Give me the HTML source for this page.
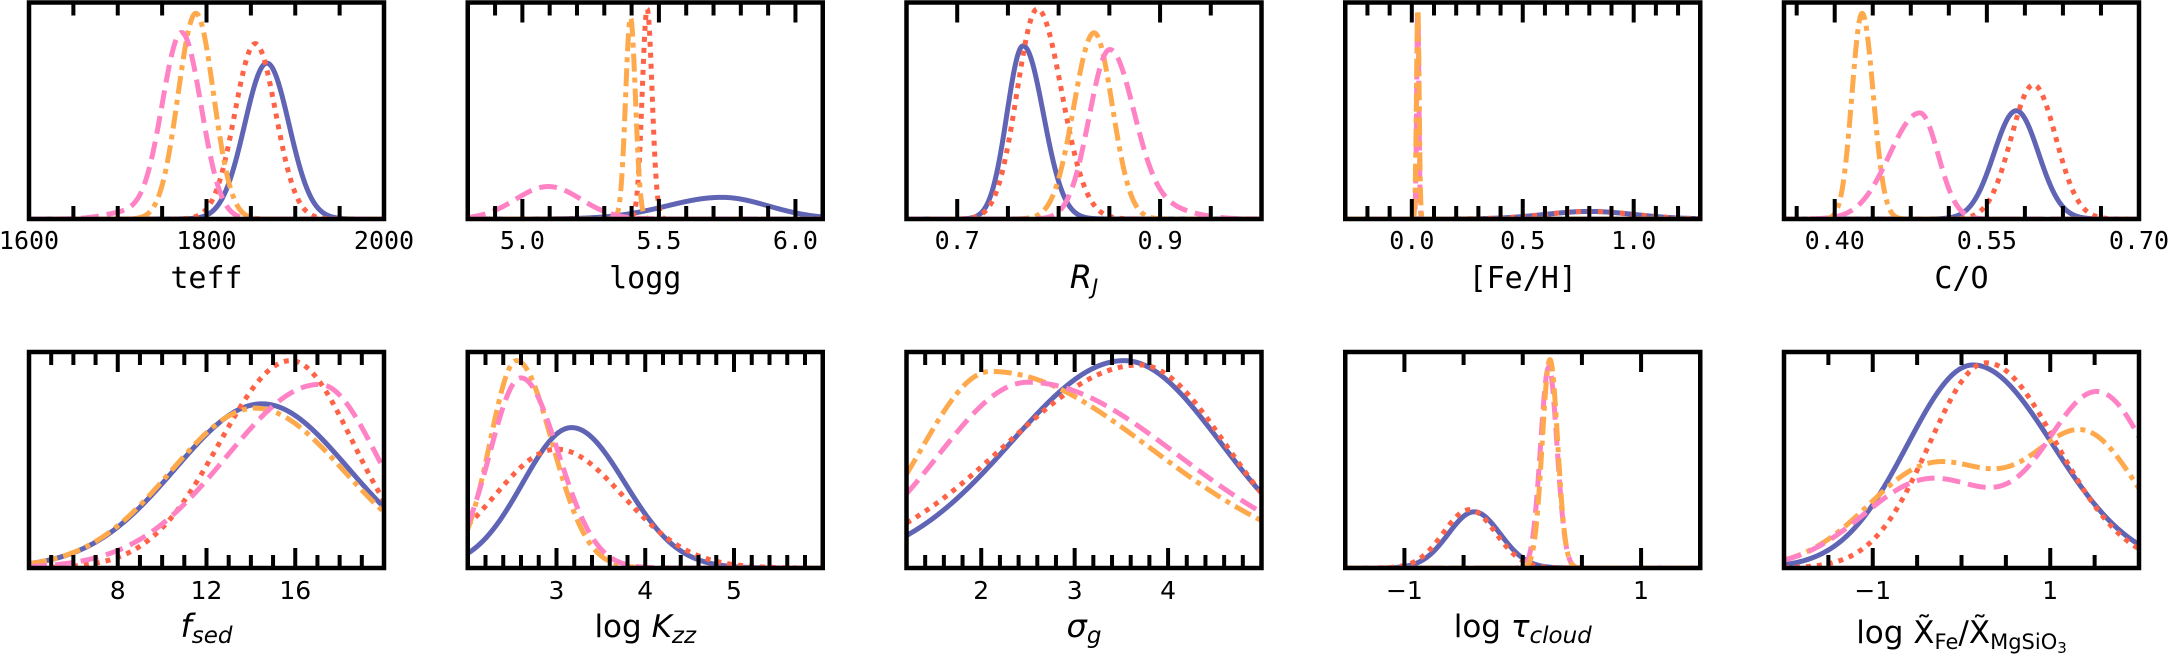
<!DOCTYPE html>
<html><head><meta charset="utf-8"><style>
html,body{margin:0;padding:0;background:#fff;width:2170px;height:656px;overflow:hidden}
svg{display:block}
.m{font-family:"DejaVu Sans Mono","Liberation Mono",monospace;font-size:25px}
.ml{font-family:"DejaVu Sans Mono","Liberation Mono",monospace;font-size:30px}
.s{font-family:"DejaVu Sans","Liberation Sans",sans-serif;font-size:25px}
.i{font-family:"DejaVu Sans","Liberation Sans",sans-serif;font-style:italic;font-size:32px}
</style></head><body>
<svg id="c" width="2170" height="656" viewBox="0 0 2170 656" xmlns="http://www.w3.org/2000/svg">
<g id="plots"></g>
<g fill="#000" text-anchor="middle">
<text class="m" x="29" y="249">1600</text><text class="m" x="206.5" y="249">1800</text><text class="m" x="384" y="249">2000</text>
<text class="m" x="522.4" y="249">5.0</text><text class="m" x="658.9" y="249">5.5</text><text class="m" x="795.4" y="249">6.0</text>
<text class="m" x="957.2" y="249">0.7</text><text class="m" x="1160.1" y="249">0.9</text>
<text class="m" x="1411.8" y="249">0.0</text><text class="m" x="1522.7" y="249">0.5</text><text class="m" x="1633.7" y="249">1.0</text>
<text class="m" x="1834.7" y="249">0.40</text><text class="m" x="1986.9" y="249">0.55</text><text class="m" x="2139" y="249">0.70</text>
<text class="ml" x="206.5" y="288">teff</text>
<text class="ml" x="645.25" y="288">logg</text>
<text class="i" x="1084" y="288">R<tspan style="font-size:21px" dy="6">J</tspan></text>
<text class="ml" x="1522.75" y="288">[Fe/H]</text>
<text class="ml" x="1961.5" y="288">C/O</text>
<text class="s" x="117.75" y="599">8</text><text class="s" x="206.5" y="599">12</text><text class="s" x="295.25" y="599">16</text>
<text class="s" x="556.5" y="599">3</text><text class="s" x="645.25" y="599">4</text><text class="s" x="734" y="599">5</text>
<text class="s" x="981.2" y="599">2</text><text class="s" x="1074.7" y="599">3</text><text class="s" x="1168.1" y="599">4</text>
<text class="s" x="1404.4" y="599">−1</text><text class="s" x="1641.1" y="599">1</text>
<text class="s" x="1872.75" y="599">−1</text><text class="s" x="2050.25" y="599">1</text>
<text class="i" x="206.5" y="637">f<tspan style="font-size:23px" dy="6">sed</tspan></text>
<text class="s" x="645.25" y="637" style="font-size:31px">log <tspan font-style="italic">K</tspan><tspan font-style="italic" style="font-size:23px" dy="6">zz</tspan></text>
<text class="i" x="1084" y="637">σ<tspan style="font-size:23px" dy="6">g</tspan></text>
<text class="s" x="1522.75" y="637" style="font-size:31px">log <tspan font-style="italic">τ</tspan><tspan font-style="italic" style="font-size:23px" dy="6">cloud</tspan></text>
<text class="s" x="1961.5" y="643" style="font-size:31px">log X̃<tspan style="font-size:21px" dy="6">Fe</tspan><tspan dy="-6">/X̃</tspan><tspan style="font-size:21px" dy="6">MgSiO</tspan><tspan style="font-size:15px" dy="4">3</tspan></text>
</g>
</svg>
<script>
(function(){
var NS="http://www.w3.org/2000/svg",G=document.getElementById("plots");
var C={b:"#5f64b5",r:"#ff6347",o:"#ffa94d",p:"#ff82c4"};
var DA={b:"",r:"5,6",o:"18,6,5,6",p:"18,8"};
function ag(x,c){var s=0;for(var k=0;k<c.length;k++){var g=c[k],d=x-g[0],sg=d<0?g[1]:g[2];s+=g[3]*Math.exp(-d*d/(2*sg*sg));}return s;}
function range(a,b,st){var r=[];for(var v=a;v<=b+1e-9;v+=st)r.push(+v.toFixed(6));return r;}
var P=[
 {c:0,r:0,x:[1600,2000],mi:range(1650,1950,50),ma:[1800],s:{
   b:[[1868,25,25,0.72]],r:[[1855,23,23,0.81]],o:[[1788,20,20,0.95]],p:[[1772,22,22,0.86],[1710,25,25,0.03]]}},
 {c:1,r:0,x:[4.8,6.1],mi:range(4.9,6.1,0.1),ma:[5.0,5.5,6.0],s:{
   b:[[5.73,0.2,0.17,0.10]],r:[[5.457,0.018,0.018,0.97]],o:[[5.396,0.018,0.018,0.93]],p:[[5.095,0.12,0.12,0.15]]}},
 {c:2,r:0,x:[0.65,1.0],mi:range(0.75,1.0,0.05),ma:[0.7,0.9],s:{
   b:[[0.765,0.016,0.02,0.80]],r:[[0.779,0.02,0.024,0.97]],o:[[0.835,0.02,0.018,0.86]],p:[[0.85,0.02,0.024,0.77],[0.9,0.03,0.03,0.05]]}},
 {c:3,r:0,ord:["b","r","p","o"],x:[-0.3,1.3],mi:range(-0.2,1.3,0.1),ma:[0,0.5,1.0],s:{
   b:[[0.8,0.2,0.2,0.035]],r:[[0.8,0.2,0.2,0.035]],o:[[0.027,0.006,0.006,0.98]],p:[[0.027,0.005,0.005,0.96]]}},
 {c:4,r:0,x:[0.35,0.70],mi:range(0.3625,0.70,0.0375),ma:[0.40,0.55],s:{
   b:[[0.579,0.022,0.022,0.5]],r:[[0.596,0.022,0.022,0.62]],o:[[0.427,0.01,0.011,0.95]],p:[[0.484,0.03,0.018,0.49]]}},
 {c:0,r:1,x:[4,20],mi:range(5,19,1),ma:[8,12,16],s:{
   b:[[14.5,3.9,3.9,0.76]],r:[[15.8,3.2,2.8,0.96]],o:[[14.2,3.8,4.0,0.74]],p:[[17.1,4.2,2.6,0.85]]}},
 {c:1,r:1,x:[2,6],mi:range(2.2,5.8,0.2),ma:[3,4,5],s:{
   b:[[3.17,0.55,0.6,0.65]],r:[[3.0,0.7,0.75,0.55]],o:[[2.55,0.3,0.4,0.96]],p:[[2.6,0.35,0.42,0.88]]}},
 {c:2,r:1,x:[1.2,5.0],mi:range(1.4,4.8,0.2),ma:[2,3,4],s:{
   b:[[3.53,1.21,1.03,0.96]],r:[[3.7,1.44,0.92,0.94]],o:[[2.1,0.74,1.72,0.91]],p:[[2.5,0.96,1.61,0.86]]}},
 {c:3,r:1,ord:["b","r","p","o"],x:[-1.5,1.5],mi:[-0.5,0,0.5],ma:[-1,1],s:{
   b:[[-0.41,0.22,0.22,0.26]],r:[[-0.45,0.22,0.22,0.27]],o:[[0.23,0.065,0.065,0.965]],p:[[0.22,0.07,0.07,0.93]]}},
 {c:4,r:1,x:[-2,2],mi:[-1.5,-0.5,0,0.5,1.5],ma:[-1,1],s:{
   b:[[0.13,0.74,0.9,0.94]],r:[[0.28,0.64,0.79,0.95]],o:[[-0.3,0.75,0.75,0.48],[1.4,0.6,0.6,0.6]],p:[[-0.35,0.75,0.75,0.41],[1.55,0.6,0.6,0.8]]}}
];
function el(n,a,p){var e=document.createElementNS(NS,n);for(var k in a)e.setAttribute(k,a[k]);(p||G).appendChild(e);return e;}
P.forEach(function(p,i){
 var X0=29+p.c*438.75,W=355,Y0=p.r?352:2.5,Y1=p.r?568:219,H=Y1-Y0;
 function sx(v){return X0+(v-p.x[0])/(p.x[1]-p.x[0])*W;}
 var cid="cl"+i;
 var cp=el("clipPath",{id:cid});el("rect",{x:X0,y:Y0,width:W,height:H},cp);
 var g=el("g",{"clip-path":"url(#"+cid+")"});
 (p.ord||["b","r","o","p"]).forEach(function(k){
  var d="",N=800;
  for(var j=0;j<=N;j++){var v=p.x[0]+(p.x[1]-p.x[0])*j/N;var y=Y1-H*ag(v,p.s[k]);d+=(j?"L":"M")+sx(v).toFixed(2)+","+y.toFixed(2);}
  var a={d:d,fill:"none",stroke:C[k],"stroke-width":5,"stroke-linejoin":"round"};
  if(DA[k])a["stroke-dasharray"]=DA[k];
  el("path",a,g);
 });
 var t="";
 function tk(v,L){var x=sx(v).toFixed(2);t+="M"+x+","+Y0+"v"+L+"M"+x+","+Y1+"v"+(-L);}
 p.mi.forEach(function(v){tk(v,13);});p.ma.forEach(function(v){tk(v,20);});
 el("path",{d:t,stroke:"#000","stroke-width":4,fill:"none"});
 el("rect",{x:X0,y:Y0,width:W,height:H,fill:"none",stroke:"#000","stroke-width":4.5});
});
})();
</script>
</body></html>
